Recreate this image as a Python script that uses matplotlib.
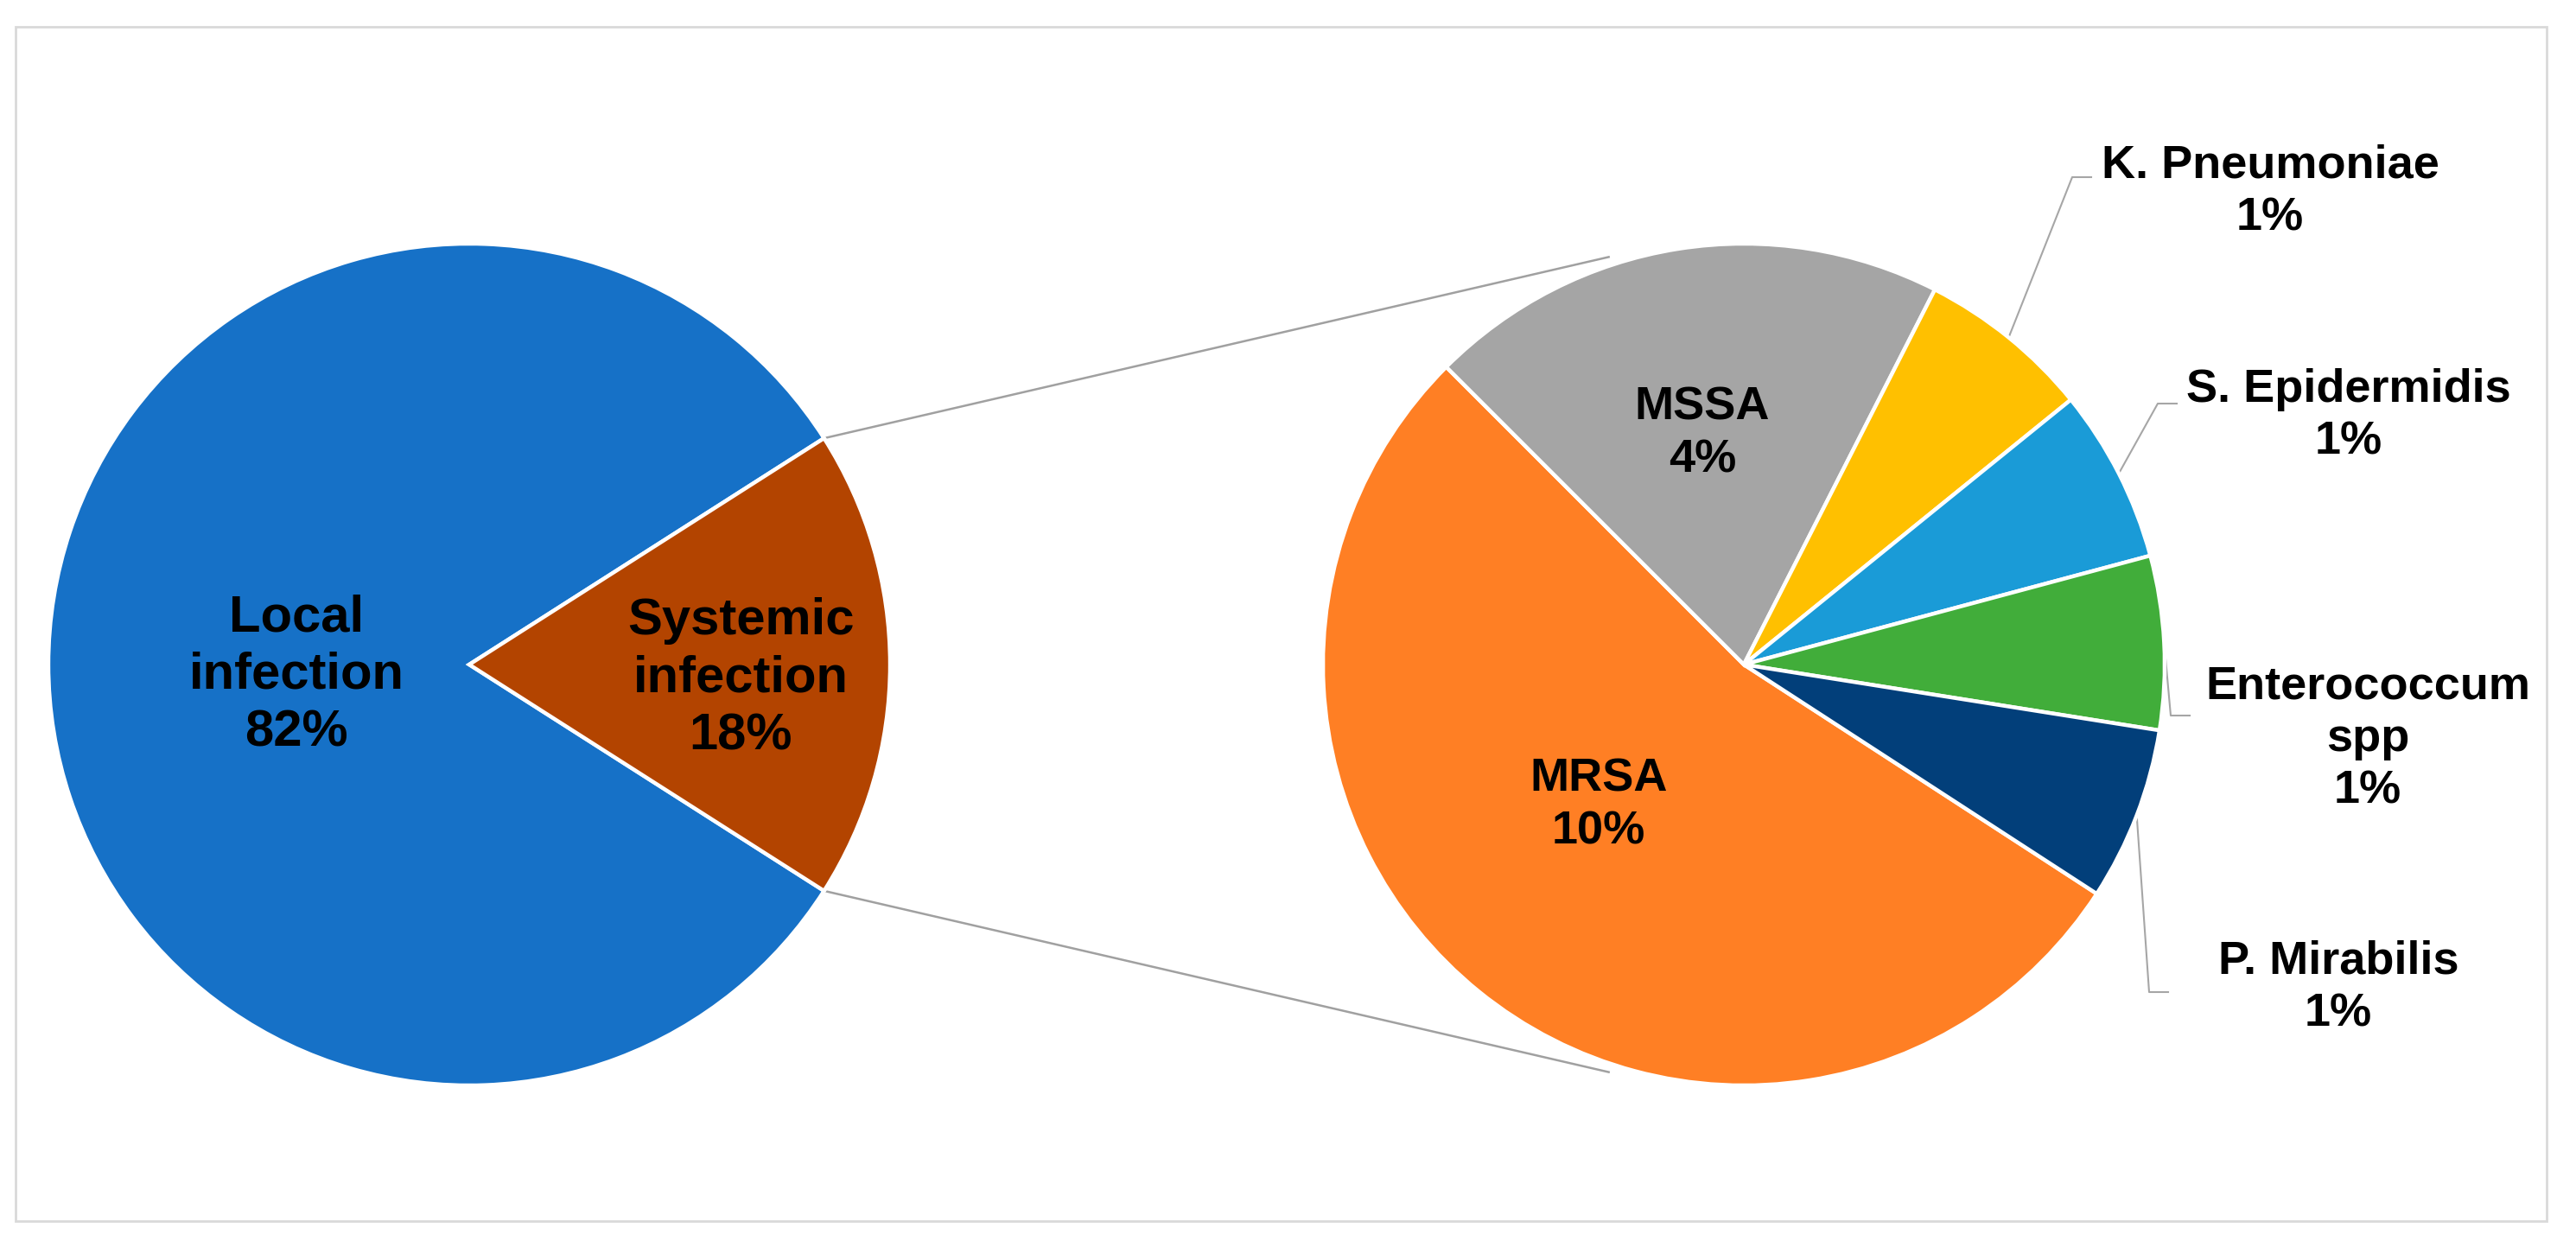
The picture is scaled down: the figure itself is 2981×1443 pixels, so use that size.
import numpy as np
import matplotlib
matplotlib.use("Agg")
import matplotlib.pyplot as plt
from matplotlib.patches import Rectangle

# Dữ liệu: số ca (tổng 83), nhãn hiển thị theo % tổng
main_labels = ["Local\ninfection", "Systemic\ninfection"]
main_counts = [68, 15]
main_colors = ["#1671C7", "#B34400"]

sub_labels = ["MRSA", "MSSA", "K. Pneumoniae", "S. Epidermidis", "Enterococcum\nspp", "P. Mirabilis"]
sub_counts = [8, 3, 1, 1, 1, 1]
sub_colors = ["#FF7F24", "#A5A5A5", "#FFC000", "#1A9BD7", "#41AD3A", "#023F7A"]

W, H = 2981, 1443
total = sum(main_counts)

plt.rcParams['font.family'] = ['Liberation Sans', 'DejaVu Sans']

fig = plt.figure(figsize=(W / 100, H / 100), dpi=100)
ax = fig.add_axes([0, 0, 1, 1])

R = 487
c_left = (543, H - 769)
c_right = (2018, H - 769)

# Pie bên trái: phần Systemic nằm giữa, bên phải
sys_angle = 360 * main_counts[1] / total
w_left, _ = ax.pie(main_counts, colors=main_colors, center=c_left, radius=R,
                   startangle=sys_angle / 2, counterclock=True,
                   wedgeprops=dict(edgecolor="white", linewidth=3.2))

# Pie bên phải: chi tiết Systemic
w_right, _ = ax.pie(sub_counts, colors=sub_colors, center=c_right, radius=R,
                    startangle=-33, counterclock=False,
                    wedgeprops=dict(edgecolor="white", linewidth=3.2))


def pt(center, ang, r):
    a = np.deg2rad(ang)
    return center[0] + r * np.cos(a), center[1] + r * np.sin(a)


def pct(n):
    return f"{round(100 * n / total)}%"


# Đường nối hai pie
for sgn in (1, -1):
    x0, y0 = pt(c_left, sgn * sys_angle / 2, R)
    x1, y1 = pt(c_right, sgn * 108.2, R * 1.02)
    ax.plot([x0, x1], [y0, y1], color="#A0A0A0", lw=1.8, solid_capstyle="butt", zorder=0)

# Nhãn trong pie trái (vị trí theo bán kính)
left_pos = [(-0.41, -0.025), (0.645, -0.033)]
for lab, n, (dx, dy) in zip(main_labels, main_counts, left_pos):
    ax.text(c_left[0] + dx * R, c_left[1] + dy * R, f"{lab}\n{pct(n)}",
            ha="center", va="center", fontsize=43, fontweight="bold", linespacing=1.27)

# Nhãn trong pie phải: MRSA, MSSA
inner_pos = [(-0.345, -0.335), (-0.099, 0.548)]
for i, (dx, dy) in enumerate(inner_pos):
    ax.text(c_right[0] + dx * R, c_right[1] + dy * R, f"{sub_labels[i]}\n{pct(sub_counts[i])}",
            ha="center", va="center", fontsize=39, fontweight="bold", linespacing=1.28)

# Nhãn ngoài với đường dẫn gấp khúc (toạ độ ảnh: x, y từ trên xuống)
elbows = [(2398, 205), (2497, 467), (2512, 828), (2487, 1148)]
text_pos = [(2627, 222), (2718, 481), (2740, 855), (2706, 1143)]
for k, i in enumerate(range(2, 6)):
    wdg = w_right[i]
    mid = (wdg.theta1 + wdg.theta2) / 2
    xs, ys = pt(c_right, mid, R)
    ex, ey = elbows[k]
    ax.plot([xs, ex, ex + 22], [ys, H - ey, H - ey], color="#A6A6A6", lw=1.5, zorder=0)
    tx, ty = text_pos[k]
    ax.text(tx, H - ty, f"{sub_labels[i]}\n{pct(sub_counts[i])}",
            ha="center", va="center", fontsize=39, fontweight="bold", linespacing=1.28)

# Khung viền
ax.add_patch(Rectangle((18, H - 1413), 2929, 1382, fill=False, edgecolor="#D9D9D9", lw=2))

ax.set_xlim(0, W)
ax.set_ylim(0, H)
ax.set_aspect("equal")
ax.axis("off")

fig.savefig("out.png", dpi=100, facecolor="white")
